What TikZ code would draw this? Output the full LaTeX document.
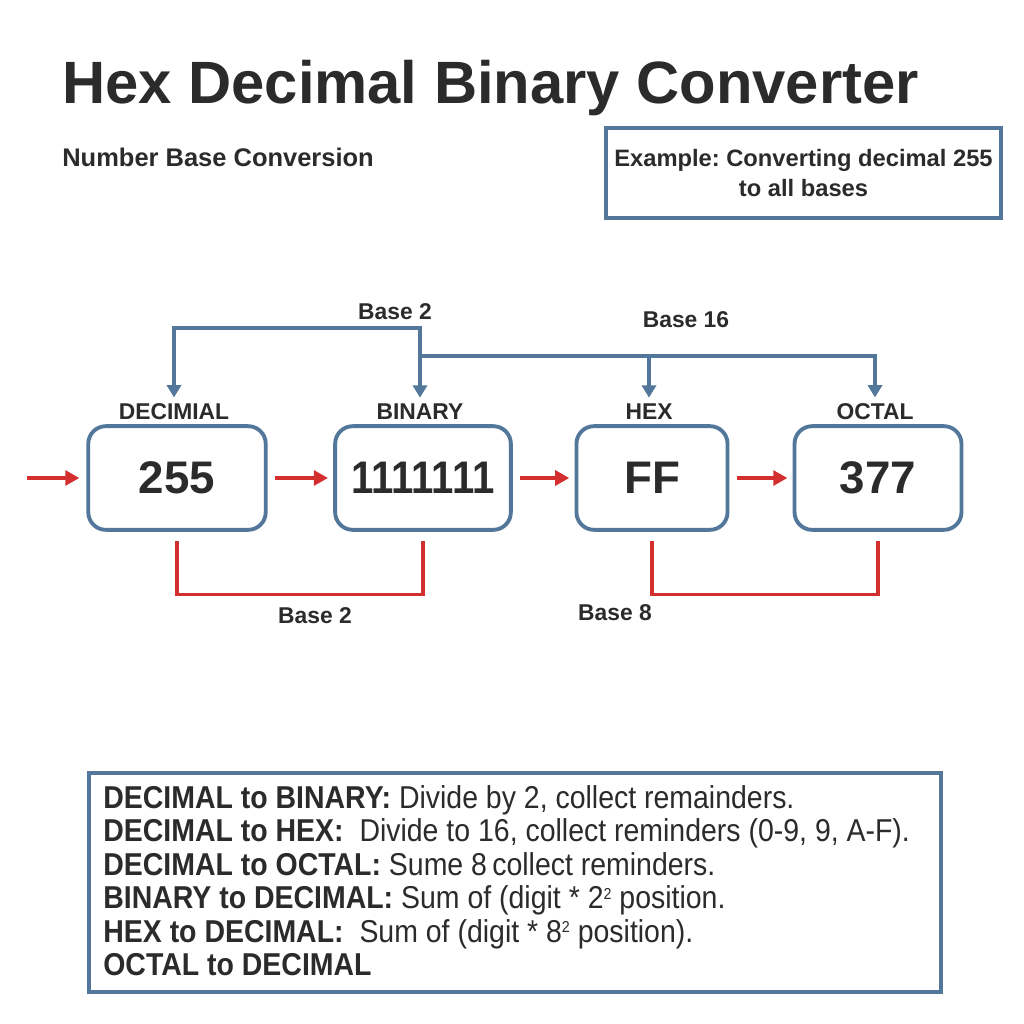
\documentclass[tikz,border=0pt]{standalone}
\usepackage{fontspec}
\usepackage{graphicx}
\setmainfont{Liberation Sans}
\newfontfamily\estrecha[FakeStretch=0.9]{Liberation Sans}
\usetikzlibrary{arrows.meta}
\definecolor{azul}{HTML}{52779A}
\definecolor{rojo}{HTML}{D32F2F}
\definecolor{texto}{HTML}{2B2B2B}
\frenchspacing
\tikzset{
  caja/.style={draw=azul, line width=2.2pt, rounded corners=10pt, fill=white, minimum height=59pt,
    text=texto, font=\fontsize{26}{30}\selectfont\bfseries},
  etiqueta/.style={text=texto, inner sep=0pt, font=\fontsize{13}{15}\selectfont\bfseries},
  flecha/.style={draw=rojo, line width=1.8pt, -{Triangle[length=8pt,width=8.5pt]}},
  conector/.style={draw=azul, line width=1.9pt},
  punta/.tip={Triangle[length=7pt,width=8pt]},
  corchete/.style={draw=rojo, line width=1.9pt},
  regla/.style={anchor=base west, inner sep=0pt, text=texto, font=\estrecha\fontsize{18}{20}\selectfont}
}
\newcommand{\expo}[1]{\raisebox{0.55ex}{\fontsize{9}{9}\selectfont #1}}
\begin{document}
\begin{tikzpicture}[x=0.02cm, y=-0.02cm]
    \useasboundingbox[fill=white] (0,0) rectangle (1024,1024);
    % Titulo
    \node[anchor=base west, inner sep=0pt, text=texto, font=\fontsize{34}{40}\selectfont\bfseries] (titulo) at (62,104) {Hex Decimal Binary Converter};
    \node[etiqueta, anchor=base west, font=\fontsize{14.5}{17}\selectfont\bfseries] (subtitulo) at (62,166) {Number Base Conversion};
    % Ejemplo
    \node[draw=azul, line width=2.2pt, minimum width=225pt, minimum height=51pt, align=center, text=texto,
        font=\fontsize{13.5}{17}\selectfont\bfseries] (ejemplo) at (803.5,173) {Example: Converting decimal 255\\to all bases};
    % Cajas de cada base
    \foreach \nombre/\x/\ancho/\valor/\titulo in {dec/177/101/255/DECIMIAL, bin/423/100/{\scalebox{0.88}[1]{1111111}}/BINARY, hex/652/86/FF/HEX, oct/878/95/377/OCTAL} {
        \node[caja, minimum width=\ancho pt] (\nombre) at (\x,478) {\valor};
        \node[etiqueta, anchor=base] (\nombre-lab) at (\x-3,419) {\titulo};
    }
    % Flechas rojas
    \coordinate (entrada) at (27,478);
    \draw[flecha, shorten >=4pt] (entrada) -- (dec);
    \foreach \a/\b in {dec/bin, bin/hex, hex/oct} {
        \draw[flecha, shorten <=4pt, shorten >=3pt] (\a) -- (\b);
    }
    % Conectores azules
    \coordinate (b2) at (bin-lab.north |- 0,328);
    \coordinate (b16) at (bin-lab.north |- 0,356);
    \draw[conector, {punta}-{punta}, shorten <=3pt, shorten >=3pt] (dec-lab.north) |- (b2) -- (bin-lab.north);
    \draw[conector, -{punta}, shorten >=3pt] (b16) -| (hex-lab.north);
    \draw[conector, -{punta}, shorten >=3pt] (b16) -| (oct-lab.north);
    \node[etiqueta, anchor=base] (base2a) at (395,319) {Base 2};
    \node[etiqueta, anchor=base] (base16) at (686,327) {Base 16};
    % Corchetes rojos
    \draw[corchete] ([yshift=-5.5pt]dec.south) -- ++(0,53) -| ([yshift=-5.5pt]bin.south);
    \draw[corchete] ([yshift=-5.5pt]hex.south) -- ++(0,53) -| ([yshift=-5.5pt]oct.south);
    \node[etiqueta, anchor=base] (base2b) at (315,623) {Base 2};
    \node[etiqueta, anchor=base] (base8) at (615,620) {Base 8};
    % Reglas de conversion
    \node[draw=azul, line width=2.2pt, minimum width=485pt, minimum height=125pt] (marco) at (515,882.5) {};
    \foreach \i/\a/\b in {0/{DECIMAL to BINARY:}/{\ Divide by 2, collect remainders.},
        1/{DECIMAL to HEX:}/{\ \ Divide to 16, collect reminders (0-9, 9, A-F).},
        2/{DECIMAL to OCTAL:}/{\ Sume 8\,collect reminders.},
        3/{BINARY to DECIMAL:}/{\ Sum of (digit * 2\expo{2} position.},
        4/{HEX to DECIMAL:}/{\ \ Sum of (digit * 8\expo{2} position).},
        5/{OCTAL to DECIMAL}/{}} {
        \node[regla] (regla\i) at (103,808+33.5*\i) {\textbf{\a}\b};
    }
\end{tikzpicture}
\end{document}
